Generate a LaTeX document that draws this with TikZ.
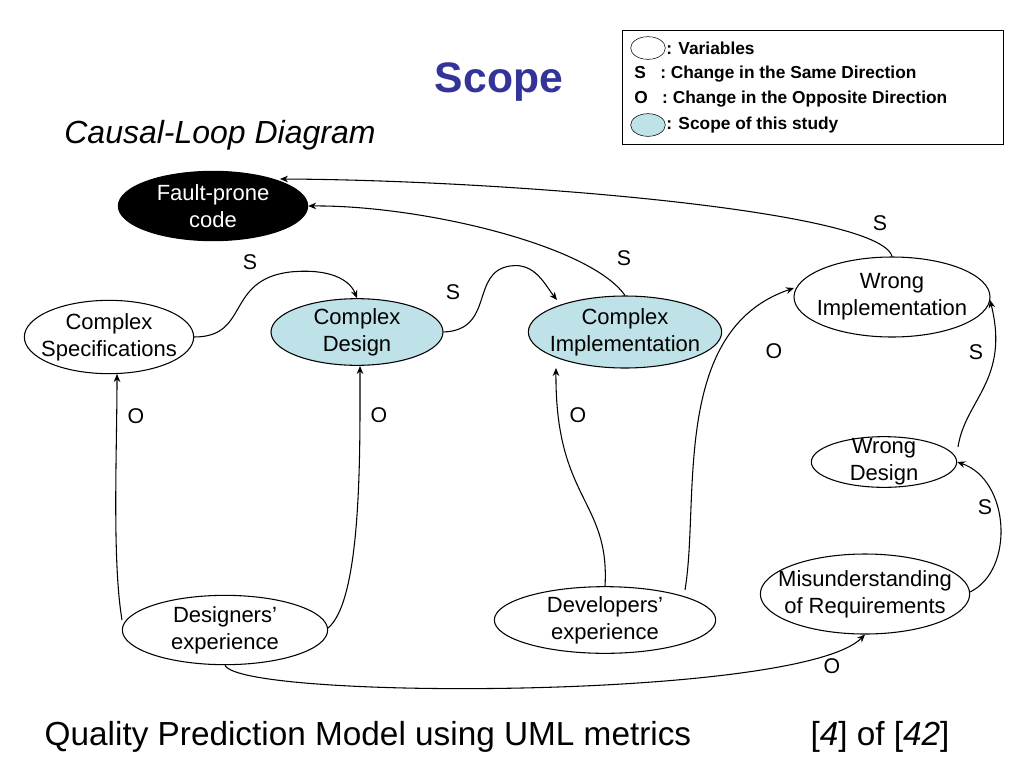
\documentclass[tikz,border=0pt]{standalone}
\usepackage{fontspec}
\setmainfont{Liberation Sans}
\usetikzlibrary{shapes.geometric,arrows.meta}
\definecolor{sc}{RGB}{190,226,232}
\definecolor{tb}{RGB}{51,51,153}
\begin{document}
\begin{tikzpicture}[x=0.75pt,y=-0.75pt,
 v/.style={ellipse,draw,line width=0.8pt,fill=white,inner xsep=-14pt,inner ysep=-6pt,align=center,font=\fontsize{16.5}{20}\selectfont},
 e/.style={draw,line width=0.8pt,-{Stealth[length=6pt,width=5pt]}},
 lb/.style={font=\fontsize{16}{18}\selectfont}]
\useasboundingbox (0,0) rectangle (1024,768);
\node[font=\bfseries\fontsize{32}{34}\selectfont,text=tb] (title) at (499,82) {Scope};
\node[font=\itshape\fontsize{24}{26}\selectfont] (sub) at (220,135) {Causal-Loop Diagram};
\node[font=\fontsize{25}{27}\selectfont,anchor=west] (q) at (40,737) {Quality Prediction Model using UML metrics};
\node[font=\fontsize{25}{27}\selectfont] (pg) at (880,737) {[\textit{4}] of [\textit{42}]};
% legend
\draw[line width=0.6pt] (622,30) rectangle (1003,144);
\node[ellipse,draw,minimum width=26pt,minimum height=17pt,inner sep=0pt] (l1) at (648,48) {};
\node[ellipse,draw,fill=sc,minimum width=26pt,minimum height=17pt,inner sep=0pt] (l4) at (648,125) {};
\begin{scope}[font=\bfseries\fontsize{13}{14}\selectfont]
\node[anchor=west,inner sep=0pt] (t1) at (666,48) {: Variables};
\node[anchor=west,inner sep=0pt] (t2) at (634,74) {S\ \ \ : Change in the Same Direction};
\node[anchor=west,inner sep=0pt] (t3) at (634,99) {O\ \ \ : Change in the Opposite Direction};
\node[anchor=west,inner sep=0pt] (t4) at (666,125) {: Scope of this study};
\end{scope}
% nodes
\node[v,fill=black,text=white,minimum width=142pt,minimum height=52pt] (fp) at (213,206) {Fault-prone\\code};
\node[v,minimum width=127pt,minimum height=55pt] (cs) at (109,337) {Complex\\Specifications};
\node[v,fill=sc,minimum width=129pt,minimum height=50pt] (cd) at (357,332) {Complex\\Design};
\node[v,fill=sc,minimum width=145pt,minimum height=54pt] (ci) at (625,332) {Complex\\Implementation};
\node[v,minimum width=147pt,minimum height=60pt] (wi) at (892,297) {Wrong\\Implementation};
\node[v,minimum width=109pt,minimum height=38pt] (wd) at (884,462) {Wrong\\Design};
\node[v,minimum width=157pt,minimum height=60pt] (mr) at (865,594) {Misunderstanding\\of Requirements};
\node[v,minimum width=154pt,minimum height=52pt] (de) at (225,630) {Designers'\\experience};
\node[v,minimum width=166pt,minimum height=50pt] (dv) at (605,620) {Developers'\\experience};
% edges
\draw[e] (cs.east) .. controls (250,337) and (225,280) .. (290,272) .. controls (330,268) and (350,280) .. (cd.north);
\draw[e] (cd.east) .. controls (495,330) and (470,272) .. (510,266) .. controls (535,262) and (545,285) .. (557,300);
\draw[e] (ci.north) .. controls (590,245) and (420,205) .. (fp.east);
\draw[e] (wi.north) .. controls (880,210) and (500,180) .. (280,179);
\draw[e] (122,620) .. controls (112,560) and (117,450) .. (117,374);
\draw[e] (328,628) .. controls (362,600) and (360,450) .. (360,366);
\draw[e] (dv.north) .. controls (610,500) and (555,500) .. (556,368);
\draw[e] (685,590) .. controls (700,500) and (670,330) .. (794,288);
\draw[e] (958,447) .. controls (965,400) and (1010,380) .. (990,300);
\draw[e] (970,592) .. controls (1015,570) and (1010,480) .. (wd.east);
\draw[e] (de.south) .. controls (240,700) and (800,700) .. (mr.south);
% labels
\node[lb] (s1) at (250,262) {S};
\node[lb] (s2) at (453,292) {S};
\node[lb] (s3) at (624,258) {S};
\node[lb] (s4) at (880,223) {S};
\node[lb] (s5) at (976,352) {S};
\node[lb] (s6) at (985,507) {S};
\node[lb] (o1) at (136,416) {O};
\node[lb] (o2) at (379,415) {O};
\node[lb] (o3) at (578,415) {O};
\node[lb] (o4) at (774,351) {O};
\node[lb] (o5) at (832,666) {O};
\end{tikzpicture}
\end{document}
